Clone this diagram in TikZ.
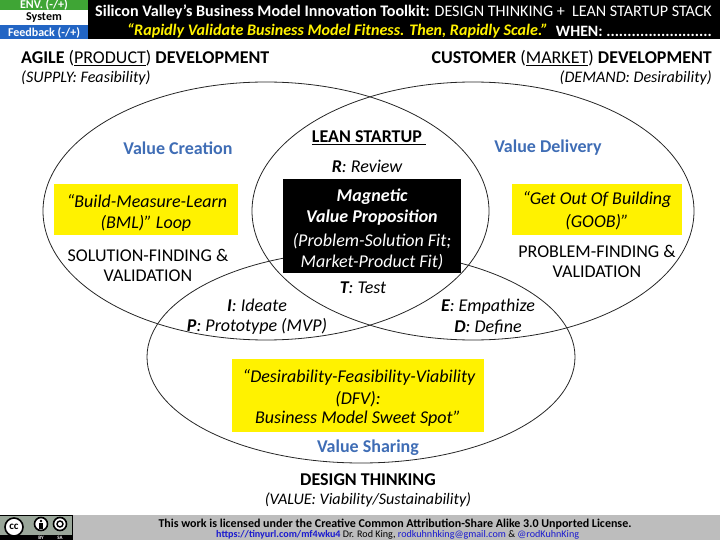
\documentclass[tikz,border=0pt]{standalone}
\usepackage{fontspec}
\setmainfont{Carlito}
\definecolor{envgreen}{HTML}{3FA535}
\definecolor{fbblue}{HTML}{2265C4}
\definecolor{valblue}{HTML}{3F6DB5}
\definecolor{footgrey}{HTML}{BDBDBD}
\definecolor{badgegrey}{HTML}{9AA79A}
\definecolor{linkblue}{HTML}{1A1AD0}
\tikzset{
    head/.style={inner sep=0pt, font=\fontsize{16.1}{18}\selectfont},
    side/.style={inner sep=0pt, font=\fontsize{12}{13}\selectfont\bfseries},
    title/.style={inner sep=0pt, font=\fontsize{18}{20}\selectfont},
    subtitle/.style={inner sep=0pt, font=\fontsize{16.1}{18}\selectfont\itshape},
    valuetext/.style={inner sep=0pt, text=valblue, font=\fontsize{18}{20}\selectfont\bfseries},
    body/.style={inner sep=0pt, font=\fontsize{18}{20}\selectfont},
    letter/.style={inner sep=0pt, font=\fontsize{18}{20}\selectfont\itshape},
    note/.style={inner sep=0pt, font=\fontsize{18}{20}\selectfont\itshape},
    ring/.style={line width=.8pt, black!85},
    notebox/.style={fill=yellow, draw=none},
    foot/.style={inner sep=0pt, font=\fontsize{12}{13}\selectfont\bfseries},
    ccring/.style={draw=black, fill=white, line width=1.6pt}
}
\begin{document}
\begin{tikzpicture}[x=1pt, y=-1pt]
\useasboundingbox (0,0) rectangle (720,540);
% header
\fill[black](88,0) rectangle (720,39);
\fill[envgreen](0,0) rectangle (88,10);
\fill[fbblue](0,25) rectangle (88,39);
\node[side, text=white] (env) at (44,5) {ENV. (-/+)};
\node[side] (system) at (44,18) {System};
\node[side, text=white] (feedback) at (44,33) {Feedback (-/+)};
\node[head, anchor=west, text=white] (toolkit) at (95,12) {\textbf{Silicon Valley’s Business Model Innovation Toolkit:} DESIGN THINKING +\ \ LEAN STARTUP STACK};
\node[head, anchor=west, text=yellow, font=\fontsize{16.1}{18}\selectfont\bfseries\itshape] (slogan) at (127,31) {“Rapidly Validate Business Model Fitness. Then, Rapidly Scale.”};
\node[head, anchor=east, text=white, font=\fontsize{15.8}{18}\selectfont\bfseries] (when) at (712,31) {WHEN: .........................};
% titles
\node[title, anchor=west] (agile) at (21,58) {\textbf{AGILE} (\underline{PRODUCT}) \textbf{DEVELOPMENT}};
\node[subtitle, anchor=west] (supply) at (21,78) {(SUPPLY: Feasibility)};
\node[title, anchor=east] (customer) at (712,58) {\textbf{CUSTOMER} (\underline{MARKET}) \textbf{DEVELOPMENT}};
\node[subtitle, anchor=east] (demand) at (712,78) {(DEMAND: Desirability)};
% the three rings
\draw[ring](266,211) ellipse (223 and 129);
\draw[ring](473,211) ellipse (221 and 129);
\draw[ring](361,357) ellipse (214 and 106);
% boxes
\fill[notebox](54,184) rectangle (238,235);
\fill[notebox](512,184) rectangle (682,235);
\fill[notebox](232,359) rectangle (484,432);
\fill[black](283,179) rectangle (461,273);
\node[valuetext] (creation) at (178,148) {Value Creation};
\node[valuetext] (delivery) at (548,148) {Value Delivery};
\node[valuetext] (sharing) at (368,448) {Value Sharing};
\node[note] (bml) at (147,201) {“Build-Measure-Learn};
\node[note] (loop) at (146,223) {(BML)” Loop};
\node[body] (solution) at (148,255) {SOLUTION-FINDING \&};
\node[body] (solval) at (148,276) {VALIDATION};
\node[note] (goob) at (597,200) {“Get Out Of Building};
\node[note] (goobb) at (597,222) {(GOOB)”};
\node[body] (problem) at (597,251) {PROBLEM-FINDING \&};
\node[body] (probval) at (597,272) {VALIDATION};
% centre
\node[body, font=\fontsize{18}{20}\selectfont\bfseries] (lean) at (369,138) {\underline{LEAN STARTUP\ }};
\node[letter] (review) at (367,166) {\textbf{R}: Review};
\node[letter, text=white, font=\fontsize{18}{20}\selectfont\bfseries\itshape] (magnetic) at (372,197) {Magnetic};
\node[letter, text=white, font=\fontsize{18}{20}\selectfont\bfseries\itshape] (value) at (372,218) {Value Proposition};
\node[letter, text=white] (psfit) at (372,241) {(Problem-Solution Fit;};
\node[letter, text=white] (mpfit) at (372,262) {Market-Product Fit)};
\node[letter] (test) at (363,288) {\textbf{T}: Test};
\node[letter] (ideate) at (257,305) {\textbf{I}: Ideate};
\node[letter] (proto) at (257,326) {\textbf{P}: Prototype (MVP)};
\node[letter] (empath) at (488,307) {\textbf{E}: Empathize};
\node[letter] (define) at (488,327) {\textbf{D}: Define};
\node[note] (dfv) at (359,377) {“Desirability-Feasibility-Viability};
\node[note] (dfvb) at (358,399) {(DFV):};
\node[note] (sweet) at (358,419) {Business Model Sweet Spot”};
\node[title, font=\fontsize{18}{20}\selectfont\bfseries] (design) at (368,480) {DESIGN THINKING};
\node[subtitle] (viab) at (368,500) {(VALUE: Viability/Sustainability)};
% footer
\fill[footgrey](0,515) rectangle (720,540);
\fill[badgegrey](0,515) rectangle (72,540);
\fill[black](0,535) rectangle (72,540);
\draw[line width=1pt](0,515)--(72,515)--(72,540);
\node[ccring, circle, minimum size=18pt, inner sep=0pt, font=\fontsize{11}{11}\selectfont\bfseries] (cc) at (14,527) {cc};
\node[ccring, circle, minimum size=13pt, inner sep=0pt] (by) at (41,524) {};
\node[ccring, circle, minimum size=13pt, inner sep=0pt] (sa) at (60,524) {};
\fill[black](41,521) circle (1.4);
\fill[black](39.3,523) rectangle (42.7,529);
\draw[line width=1.4pt](60,524) circle (3);
\node[inner sep=0pt, text=white, font=\fontsize{5}{5}\selectfont\bfseries] (bytext) at (41,537.5) {BY};
\node[inner sep=0pt, text=white, font=\fontsize{5}{5}\selectfont\bfseries] (satext) at (60,537.5) {SA};
\node[foot] (license) at (395,524) {This work is licensed under the Creative Common Attribution-Share Alike 3.0 Unported License.};
\node[foot, font=\fontsize{10.1}{12}\selectfont, anchor=west] (contact) at (216,534.5) {\textcolor{linkblue}{\textbf{https://tinyurl.com/mf4wku4}} Dr. Rod King, \textcolor{linkblue}{rodkuhnhking@gmail.com} \& \textcolor{linkblue}{@rodKuhnKing}};
\end{tikzpicture}
\end{document}
